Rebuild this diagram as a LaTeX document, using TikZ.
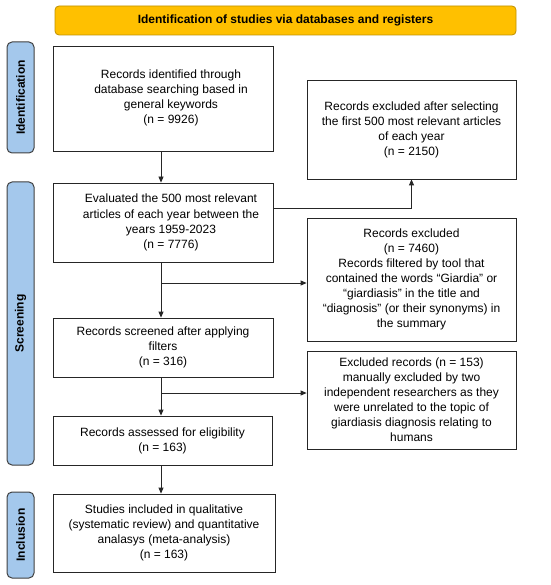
\documentclass[tikz,border=0pt]{standalone}
\usepackage{fontspec}
\setmainfont{Liberation Sans}
\usepackage{xcolor}
\usetikzlibrary{shapes,arrows.meta,positioning,calc}

\definecolor{bannerfill}{HTML}{FFC000}
\definecolor{bannerline}{HTML}{BF9000}
\definecolor{stagefill}{HTML}{A4C8EC}

\newcommand{\boxfont}{\fontsize{12}{15}\selectfont}

\tikzset{
    banner/.style={draw=bannerline, fill=bannerfill, rounded corners=4pt, line width=0.8pt, font=\boxfont\bfseries},
    stagebox/.style={draw=black!75, fill=stagefill, rounded corners=5pt, line width=1pt, rotate=90, minimum height=27pt, font=\boxfont\bfseries},
    recbox/.style={draw=black!85, rectangle, line width=0.8pt, align=center, font=\boxfont},
    flow/.style={-{Triangle[length=6pt,width=5pt]}, line width=0.8pt, black!85}
}

\begin{document}
\begin{tikzpicture}[x=1pt, y=-1pt]
\useasboundingbox (0,0) rectangle (550,585);

% header and stages
\node[banner, minimum width=461pt, minimum height=29pt] (head) at (285.5,20.5) {Identification of studies via databases and registers};
\node[stagebox, minimum width=111pt] (ident) at (20.5,97.5) {Identification};
\node[stagebox, minimum width=283pt] (screen) at (20.5,323.5) {Screening};
\node[stagebox, minimum width=86pt] (incl) at (20.5,535) {Inclusion};

% main column
\node[draw=black!85, line width=0.8pt, font=\boxfont, minimum width=220pt, minimum height=105pt] (found) at (163,98.5) {%
    \hspace{16pt}\begin{tabular}{@{}c@{}}
    Records identified through\\
    database searching based in\\
    general keywords\\
    (n = 9926)
    \end{tabular}%
};
\node[draw=black!85, line width=0.8pt, font=\boxfont, minimum width=220pt, minimum height=79pt] (evaluated) at (163,222.5) {%
    \hspace{16pt}\begin{tabular}{@{}c@{}}
    Evaluated the 500 most relevant\\
    articles of each year between the\\
    years 1959-2023\\
    (n = 7776)
    \end{tabular}%
};
\node[recbox, minimum width=220pt, minimum height=59pt] (screened) at (163,347.5) {
    Records screened after applying\\
    filters\\
    (n = 316)
};
\node[recbox, minimum width=219pt, minimum height=49pt] (eligible) at (162.5,440.5) {
    Records assessed for eligibility\\
    (n = 163)
};
\node[recbox, minimum width=222pt, minimum height=78pt] (included) at (164,533) {
    Studies included in qualitative\\
    (systematic review) and quantitative\\
    analasys (meta-analysis)\\
    (n = 163)
};

% excluded column
\node[recbox, minimum width=209pt, minimum height=99pt] (excl1) at (411.5,129.5) {
    Records excluded after selecting\\
    the first 500 most relevant articles\\
    of each year\\
    (n = 2150)
};
\node[recbox, minimum width=209pt, minimum height=123pt] (excl2) at (411.5,279.5) {
    Records excluded\\
    (n = 7460)\\
    Records filtered by tool that\\
    contained the words “Giardia” or\\
    “giardiasis” in the title and\\
    “diagnosis” (or their synonyms) in\\
    the summary
};
\node[recbox, minimum width=209pt, minimum height=98pt] (excl3) at (411.5,400) {
    Excluded records (n = 153)\\
    manually excluded by two\\
    independent researchers as they\\
    were unrelated to the topic of\\
    giardiasis diagnosis relating to\\
    humans
};

% connectors
\coordinate (split2) at (161,283);
\coordinate (split3) at (161,393);
\draw[flow] (found.south -| split2) -- (evaluated.north -| split2);
\draw[flow] ([yshift=14.5pt]evaluated.east) -| (excl1.south);
\draw[flow] (evaluated.south -| split2) -- (screened.north -| split2);
\draw[flow] (split2) -- (split2 -| excl2.west);
\draw[flow] (screened.south -| split3) -- (eligible.north -| split3);
\draw[flow] (split3) -- (split3 -| excl3.west);
\draw[flow] (eligible.south -| split3) -- (included.north -| split3);
\end{tikzpicture}
\end{document}
